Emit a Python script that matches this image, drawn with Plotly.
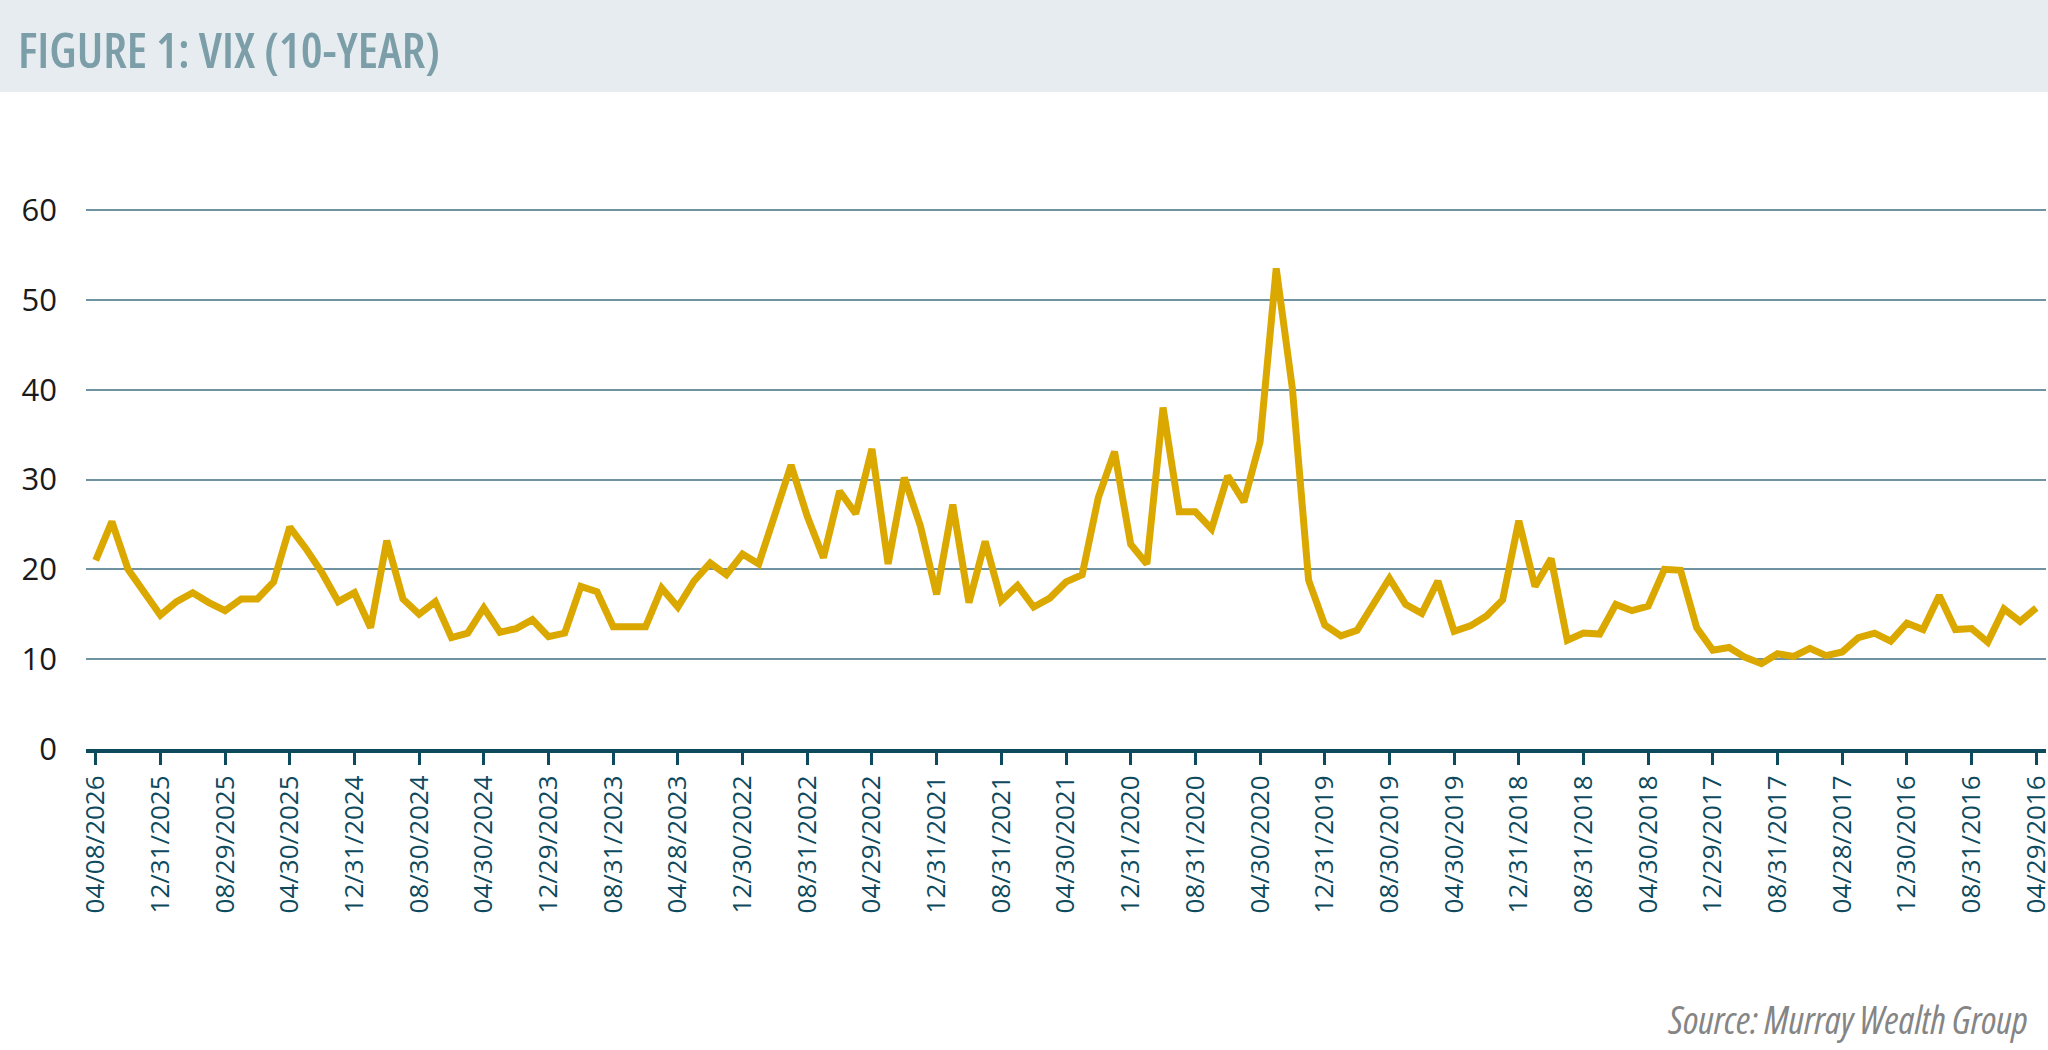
import plotly.graph_objects as go

# Monthly VIX closes, newest (left) to oldest (right)
vix_values = [
    21.0, 25.3, 20.0, 17.6, 14.9, 16.4, 17.4, 16.3, 15.4, 16.7,
    16.7, 18.6, 24.7, 22.3, 19.6, 16.4, 17.4, 13.5, 23.2, 16.7,
    15.0, 16.4, 12.4, 12.9, 15.7, 13.0, 13.4, 14.4, 12.5, 12.9,
    18.1, 17.5, 13.6, 13.6, 13.6, 17.9, 15.8, 18.7, 20.7, 19.4,
    21.7, 20.6, 25.9, 31.6, 25.9, 21.3, 28.7, 26.2, 33.4, 20.6,
    30.2, 24.8, 17.2, 27.2, 16.3, 23.1, 16.5, 18.2, 15.8, 16.8,
    18.6, 19.4, 28.0, 33.1, 22.8, 20.6, 38.0, 26.4, 26.4, 24.5,
    30.4, 27.5, 34.2, 53.5, 40.1, 18.8, 13.8, 12.6, 13.2, 16.2,
    19.0, 16.1, 15.1, 18.7, 13.1, 13.7, 14.8, 16.6, 25.4, 18.1,
    21.2, 12.1, 12.9, 12.8, 16.1, 15.4, 15.9, 20.0, 19.9, 13.5,
    11.0, 11.3, 10.2, 9.5, 10.6, 10.3, 11.2, 10.4, 10.8, 12.4,
    12.9, 12.0, 14.0, 13.3, 17.1, 13.3, 13.4, 11.9, 15.6, 14.2,
    15.7,
]

tick_labels = [
    "04/08/2026", "12/31/2025", "08/29/2025", "04/30/2025", "12/31/2024",
    "08/30/2024", "04/30/2024", "12/29/2023", "08/31/2023", "04/28/2023",
    "12/30/2022", "08/31/2022", "04/29/2022", "12/31/2021", "08/31/2021",
    "04/30/2021", "12/31/2020", "08/31/2020", "04/30/2020", "12/31/2019",
    "08/30/2019", "04/30/2019", "12/31/2018", "08/31/2018", "04/30/2018",
    "12/29/2017", "08/31/2017", "04/28/2017", "12/30/2016", "08/31/2016",
    "04/29/2016",
]

y_ticks = [0, 10, 20, 30, 40, 50, 60]

W, H = 2048, 1050
x_idx = list(range(len(vix_values)))
tick_pos = x_idx[::4]

px_per_unit = (749 - 210) / 60.0
y_top = 60.3

fig = go.Figure()
fig.add_trace(go.Scatter(
    x=x_idx, y=vix_values, mode="lines",
    line=dict(color="#DBA800", width=7),
    hoverinfo="skip", showlegend=False,
))

fig.update_layout(
    width=W, height=H,
    margin=dict(l=0, r=0, t=0, b=0),
    paper_bgcolor="white", plot_bgcolor="white",
    showlegend=False,
    xaxis=dict(
        domain=[86 / W, 2046 / W],
        range=[-0.6, len(vix_values) - 1 + 0.6],
        tickmode="array", tickvals=tick_pos, ticktext=tick_labels,
        tickangle=-90,
        ticks="outside", ticklen=12, tickwidth=3, tickcolor="#0D4A5E",
        showline=True, linecolor="#0D4A5E", linewidth=4,
        showgrid=False, zeroline=False,
        ticklabeloverflow="allow",
        tickfont=dict(family="Open Sans", size=26, color="#0D4A5E"),
        automargin=False, fixedrange=True,
    ),
    yaxis=dict(
        domain=[(H - 749) / H, (H - (749 - y_top * px_per_unit)) / H],
        range=[0, y_top],
        tickmode="array", tickvals=y_ticks,
        showgrid=True, gridcolor="#6F93A0", gridwidth=2,
        zeroline=False, showline=False, ticks="",
        ticklabelstandoff=28,
        tickfont=dict(family="Open Sans", size=31, color="#1A1A1A"),
        automargin=False, fixedrange=True,
    ),
    shapes=[dict(
        type="rect", xref="paper", yref="paper",
        x0=0, x1=1, y0=1 - 92 / H, y1=1,
        fillcolor="#E6ECEF", line=dict(width=0), layer="below",
    )],
    annotations=[
        dict(
            text="FIGURE 1: VIX (10-YEAR)",
            xref="paper", yref="paper", x=229 / W, y=1 - 49 / H,
            xanchor="center", yanchor="middle", showarrow=False,
            font=dict(family="Open Sans", size=49, weight=600, color="#7B9EA8"),
        ),
        dict(
            text="Source: Murray Wealth Group",
            xref="paper", yref="paper", x=1848 / W, y=1 - 1019 / H,
            xanchor="center", yanchor="middle", showarrow=False,
            font=dict(family="Open Sans", size=38, weight=400, color="#858585", style="italic"),
        ),
    ],
)

post = (
    "var s=document.createElement('style');"
    "s.textContent='.annotation[data-index=\"0\"] .annotation-text{font-stretch:75% !important;}"
    " .annotation[data-index=\"1\"] .annotation-text{font-stretch:87.5% !important;}';"
    "document.head.appendChild(s);"
)

fig.write_html("out.html", config={"displayModeBar": False}, post_script=post)
